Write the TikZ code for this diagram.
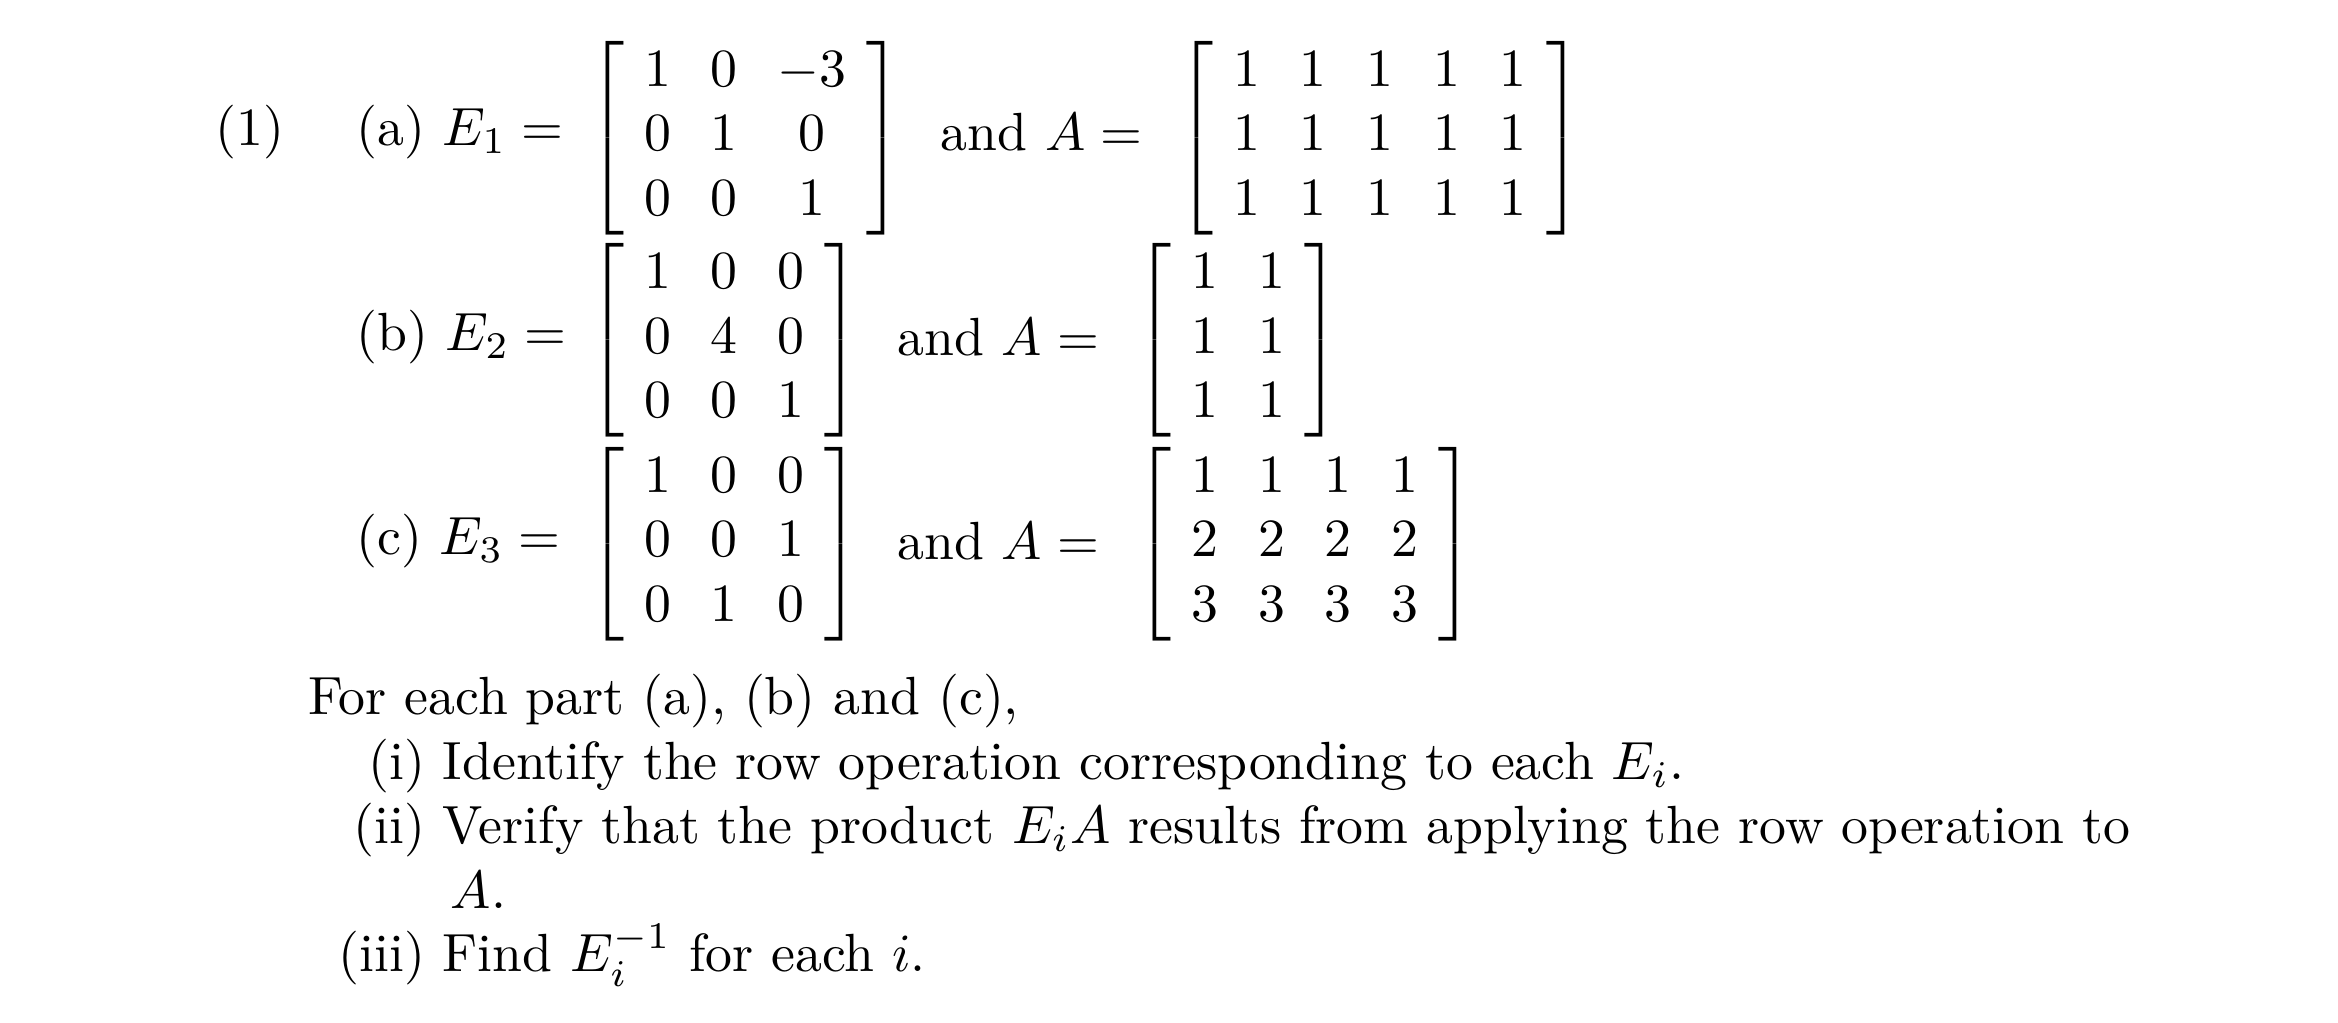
\documentclass[tikz,border=0pt]{standalone}
\usepackage{amsmath}
\newcommand{\mymat}[2]{{\setlength{\arraycolsep}{3.7pt}\left[\begin{array}{#1}#2\end{array}\right]}}
\begin{document}
\begin{tikzpicture}[x=0.0098cm,y=-0.0098cm,
  lbl/.style={anchor=west,inner sep=0pt},
  txt/.style={anchor=base west,inner sep=0pt}]
\useasboundingbox (0,0) rectangle (1560,682);
\node[lbl] (n1) at (143,88) {(1)};
\node[lbl] (la) at (237,88) {(a) $E_1 =$};
\node[lbl] (Ea) at (392,92) {$\mymat{ccc}{1&0&-3\\0&1&0\\0&0&1}$};
\node[lbl] (aA) at (627,88) {and $A =$};
\node[lbl] (Aa) at (785,92) {$\mymat{ccccc}{1&1&1&1&1\\1&1&1&1&1\\1&1&1&1&1}$};
\node[lbl] (lb) at (237,225) {(b) $E_2 =$};
\node[lbl] (Eb) at (392,227) {$\mymat{ccc}{1&0&0\\0&4&0\\0&0&1}$};
\node[lbl] (bA) at (598,225) {and $A =$};
\node[lbl] (Ab) at (757,227) {$\mymat{cc}{1&1\\1&1\\1&1}$};
\node[lbl] (lc) at (237,361) {(c) $E_3 =$};
\node[lbl] (Ec) at (392,363) {$\mymat{ccc}{1&0&0\\0&0&1\\0&1&0}$};
\node[lbl] (cA) at (598,361) {and $A =$};
\node[lbl] (Ac) at (757,363) {$\mymat{cccc}{1&1&1&1\\2&2&2&2\\3&3&3&3}$};
\node[txt] (t0) at (205,477) {For each part (a), (b) and (c),};
\node[txt] (t1) at (245,520) {(i) Identify the row operation corresponding to each $E_i$.};
\node[txt] (t2) at (235,563) {(ii) Verify that the product $E_iA$ results from applying the row operation to};
\node[txt] (t3) at (300,606) {$A$.};
\node[txt] (t4) at (225,648) {(iii) Find $E_i^{-1}$ for each $i$.};
\end{tikzpicture}
\end{document}
